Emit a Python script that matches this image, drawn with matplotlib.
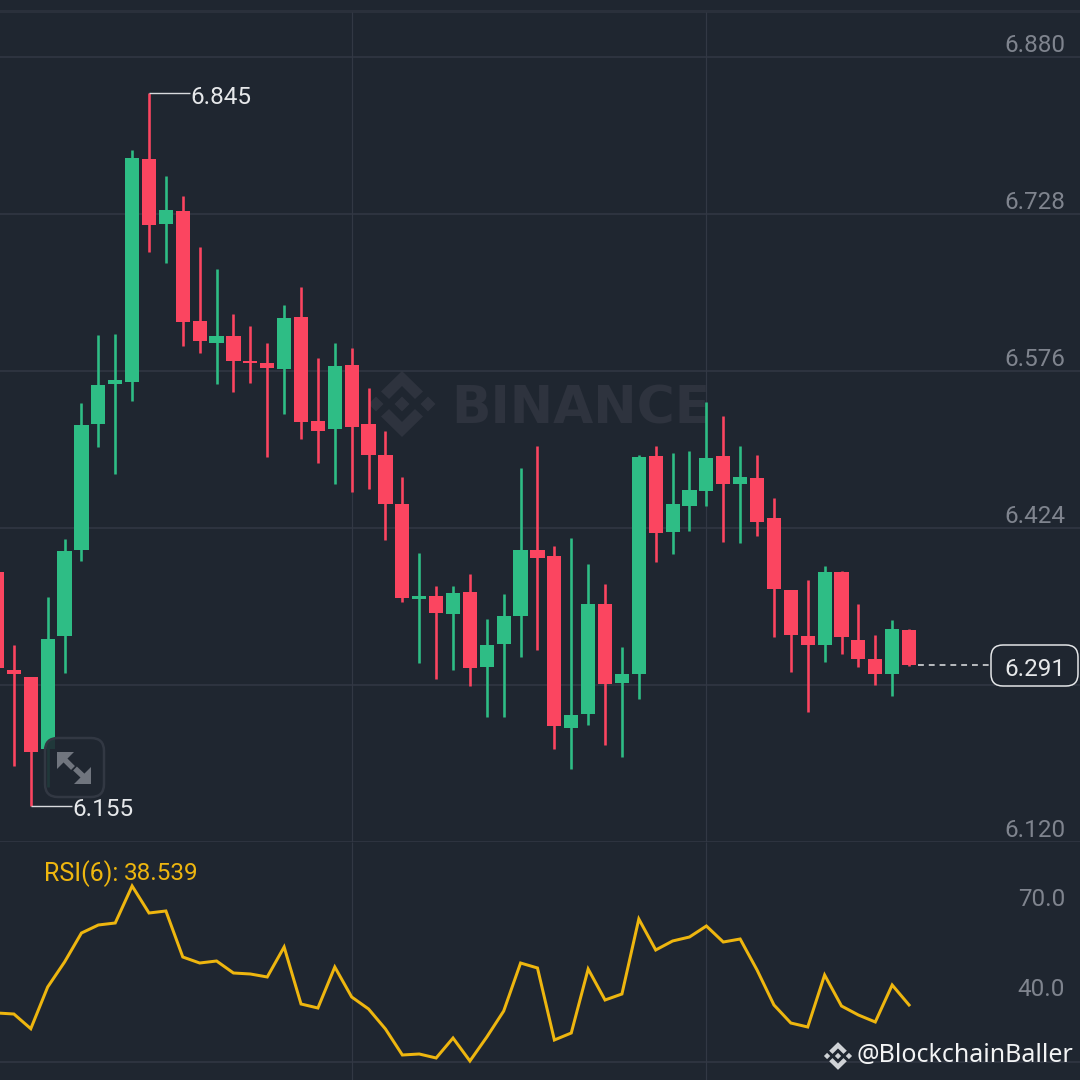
#!/usr/bin/env python
# -*- coding: utf-8 -*-

"""
Candlestick chart with RSI(6) pane, dark exchange theme.
"""

import matplotlib
matplotlib.use('Agg')
from matplotlib import pyplot as plt
from matplotlib.patches import FancyBboxPatch, Polygon

plt.rcParams['font.family'] = ['Roboto', 'DejaVu Sans']

# data
opens = [6.381, 6.287, 6.280, 6.210, 6.319, 6.403, 6.525, 6.563, 6.565, 6.781, 6.718,
         6.731, 6.624, 6.603, 6.610, 6.586, 6.584, 6.578, 6.628, 6.528, 6.520, 6.582,
         6.525, 6.495, 6.447, 6.355, 6.358, 6.341, 6.362, 6.289, 6.312, 6.339, 6.403,
         6.397, 6.230, 6.244, 6.350, 6.274, 6.283, 6.494, 6.420, 6.445, 6.460, 6.494,
         6.467, 6.472, 6.434, 6.364, 6.319, 6.311, 6.381, 6.316, 6.297, 6.283, 6.325]
closes = [6.288, 6.283, 6.207, 6.317, 6.402, 6.524, 6.562, 6.567, 6.782, 6.717, 6.732,
          6.623, 6.605, 6.610, 6.586, 6.584, 6.579, 6.627, 6.527, 6.518, 6.581, 6.522,
          6.495, 6.447, 6.356, 6.358, 6.342, 6.361, 6.288, 6.311, 6.339, 6.403, 6.395,
          6.232, 6.243, 6.350, 6.273, 6.283, 6.493, 6.419, 6.447, 6.461, 6.492, 6.467,
          6.473, 6.430, 6.365, 6.320, 6.311, 6.381, 6.318, 6.297, 6.283, 6.326, 6.291]
highs = [6.381, 6.311, 6.280, 6.357, 6.413, 6.545, 6.611, 6.612, 6.790, 6.845, 6.765,
         6.745, 6.696, 6.675, 6.631, 6.620, 6.603, 6.640, 6.657, 6.589, 6.603, 6.598,
         6.560, 6.518, 6.473, 6.400, 6.368, 6.368, 6.379, 6.336, 6.360, 6.482, 6.503,
         6.407, 6.414, 6.389, 6.370, 6.309, 6.495, 6.503, 6.497, 6.499, 6.546, 6.532,
         6.503, 6.495, 6.453, 6.364, 6.374, 6.387, 6.382, 6.350, 6.320, 6.335, 6.326]
lows = [6.288, 6.194, 6.155, 6.173, 6.284, 6.392, 6.502, 6.476, 6.547, 6.691, 6.681,
        6.600, 6.593, 6.563, 6.556, 6.564, 6.493, 6.534, 6.510, 6.487, 6.467, 6.459,
        6.462, 6.412, 6.352, 6.293, 6.278, 6.287, 6.271, 6.241, 6.241, 6.299, 6.306,
        6.210, 6.191, 6.233, 6.214, 6.202, 6.258, 6.391, 6.399, 6.421, 6.445, 6.410,
        6.409, 6.416, 6.318, 6.285, 6.246, 6.294, 6.302, 6.289, 6.272, 6.261, 6.290]
rsi = [35.87, 35.53, 30.63, 44.53, 52.87, 62.53, 65.2, 65.87, 78.2, 69.2, 69.87,
       54.53, 52.53, 53.2, 49.2, 48.87, 47.87, 57.87, 38.87, 37.53, 51.2, 41.2,
       37.2, 30.53, 21.87, 22.2, 20.87, 27.53, 19.87, 27.87, 36.53, 52.53, 50.87,
       26.87, 29.2, 50.53, 40.2, 42.2, 67.2, 56.87, 59.87, 61.2, 64.87, 59.53,
       60.53, 50.2, 38.54, 32.53, 31.2, 48.53, 38.2, 35.2, 32.87, 45.2, 38.539]
price_ticks = [6.880, 6.728, 6.576, 6.424, 6.272, 6.120]
price_labels = ['6.880', '6.728', '6.576', '6.424', '', '6.120']
rsi_ticks = [70.0, 40.0]
rsi_grid = [19.5]
vgrid_at = [21, 42]

# styles
BG = '#1f2630'
GRID = '#323844'
UP = '#2ebd85'
DOWN = '#fb4560'
YELLOW = '#eeb60f'
AXIS_TEXT = '#7f848e'
LIGHT = '#e6e8ea'
MARK = '#2e333e'
PX = 0.72  # 1 px in points at dpi 100

STEP = 16.89
X0 = -3.0


def px_to_index(x):
    return (x - X0) / STEP


def draw_logo(ax, cx, cy, scale, color, zorder=1):
    # four-part diamond mark, outline in units of the big watermark
    top = [(0, -33), (21, -12.5), (13, -5), (0, -18), (-13, -5), (-21, -12.5)]
    bottom = [(x, -y) for x, y in top]
    d = 7.5
    small = [[(ox - d, 0), (ox, -d), (ox + d, 0), (ox, d)] for ox in (-26, 0, 26)]
    for shape in [top, bottom] + small:
        pts = [(cx + x * scale, cy + y * scale) for x, y in shape]
        ax.add_patch(Polygon(pts, closed=True, fc=color, ec='none', zorder=zorder))


def pixel_axes(fig, zorder):
    ax = fig.add_axes((0, 0, 1, 1), zorder=zorder)
    ax.set_xlim(0, 1080)
    ax.set_ylim(1080, 0)
    ax.axis('off')
    return ax


def main():
    fig = plt.figure(figsize=(10.8, 10.8), dpi=100, facecolor=BG)

    # watermark and frame lines under everything
    back = pixel_axes(fig, 0)
    back.plot([0, 1080], [10.5, 10.5], color='#2a303b', lw=3 * PX)
    draw_logo(back, 402, 404, 1.0, MARK)
    back.text(451, 404, 'BINANCE', color=MARK, fontsize=37.4, fontweight='bold',
              family='DejaVu Sans', va='center_baseline', ha='left')

    xlim = (px_to_index(0), px_to_index(1080))

    # price pane
    ax = fig.add_axes((0, 238 / 1080, 1, 842 / 1080), zorder=1)
    ax.patch.set_alpha(0)
    ax.set_xlim(*xlim)
    ax.set_ylim(6.120, 6.120 + 842 * 0.152 / 157)
    ax.axis('off')
    for tick, label in zip(price_ticks, price_labels):
        ax.axhline(tick, color=GRID, lw=1.5 * PX, zorder=1)
        ax.annotate(label, xy=(1065 / 1080, tick), xycoords=('axes fraction', 'data'),
                    xytext=(0, 11.5 * PX), textcoords='offset points', ha='right', va='center',
                    color=AXIS_TEXT, fontsize=17.5)
    ax.vlines(vgrid_at, 6.120, 6.120 + 830 * 0.152 / 157, color=GRID, lw=1.2 * PX, zorder=1)

    idx = list(range(len(opens)))
    colors = [UP if c >= o else DOWN for o, c in zip(opens, closes)]
    ax.vlines(idx, lows, highs, colors=colors, lw=2.6 * PX, zorder=3)
    ax.bar(idx, [abs(c - o) for o, c in zip(opens, closes)],
           bottom=[min(o, c) for o, c in zip(opens, closes)],
           width=14.2 / STEP, color=colors, linewidth=0, zorder=4)

    # highest / lowest markers
    i_hi = highs.index(max(highs))
    i_lo = lows.index(min(lows))
    for i, p in ((i_hi, highs[i_hi]), (i_lo, lows[i_lo])):
        ax.plot([i, i + 2.42], [p, p], color='#d8dadd', lw=1.4 * PX, zorder=5, solid_capstyle='butt')
        ax.annotate('%.3f' % p, xy=(i + 2.46, p), xytext=(0, -1.5 * PX), textcoords='offset points',
                    color=LIGHT, fontsize=17.5, ha='left', va='center_baseline', zorder=5)

    # last price line
    last = closes[-1]
    ax.plot([idx[-1] + 0.5, px_to_index(990)], [last, last], color=LIGHT, lw=1.5 * PX,
            linestyle=(0, (3.9, 3.3)), zorder=5)

    # RSI pane
    rsi_ax = fig.add_axes((0, 0, 1, 238 / 1080), zorder=1)
    rsi_ax.patch.set_alpha(0)
    rsi_ax.set_xlim(*xlim)
    rsi_ax.set_ylim(40 - (1080 - 1000.6) / 3, 40 + (1000.6 - 842) / 3)
    rsi_ax.axis('off')
    for v in rsi_grid:
        rsi_ax.axhline(v, color=GRID, lw=1.5 * PX, zorder=1)
    rsi_ax.vlines(vgrid_at, *rsi_ax.get_ylim(), color=GRID, lw=1.2 * PX, zorder=1)
    for v in rsi_ticks:
        rsi_ax.annotate('%.1f' % v, xy=(1065 / 1080, v), xycoords=('axes fraction', 'data'),
                        xytext=(0, 11.5 * PX), textcoords='offset points', ha='right', va='center',
                        color=AXIS_TEXT, fontsize=17.5)
    rsi_ax.plot(idx, rsi, color=YELLOW, lw=3 * PX, zorder=3, solid_joinstyle='miter')

    # overlays in pixel coordinates
    top = pixel_axes(fig, 2)
    top.patch.set_alpha(0)
    top.text(44, 874, 'RSI(6):', color=YELLOW, fontsize=18, ha='left', va='center')
    top.text(124, 874, '%.3f' % rsi[-1], color=YELLOW, fontsize=17.5, ha='left', va='center')

    # price tag
    top.add_patch(FancyBboxPatch((999, 653), 71, 25, boxstyle='round,pad=0,rounding_size=1',
                                 fc=BG, ec='none', zorder=5))
    top.add_patch(FancyBboxPatch((991, 645), 87, 41, boxstyle='round,pad=0,rounding_size=12',
                                 fc=BG, ec=LIGHT, lw=1.5 * PX, zorder=6))
    top.text(1035, 670, '%.3f' % last, color=LIGHT, fontsize=17.5, ha='center', va='center', zorder=7)

    # expand button
    top.add_patch(FancyBboxPatch((45, 738), 59, 59, boxstyle='round,pad=0,rounding_size=13',
                                 fc=(0.122, 0.149, 0.188, 0.88), ec='#323843', lw=2.5 * PX, zorder=5))
    arrow_color = '#70757e'
    top.add_patch(Polygon([(57, 752), (74, 752), (57, 769)], fc=arrow_color, ec='none', zorder=6))
    top.add_patch(Polygon([(91, 784), (74, 784), (91, 767)], fc=arrow_color, ec='none', zorder=6))
    top.plot([63, 73], [758, 768], color=arrow_color, lw=5.5 * PX, solid_capstyle='butt', zorder=6)
    top.plot([85, 75], [778, 768.5], color=arrow_color, lw=5.5 * PX, solid_capstyle='butt', zorder=6)

    # author credit
    draw_logo(top, 838, 1056, 0.42, '#cfd2d6', zorder=6)
    top.text(1073, 1056, '@BlockchainBaller', color='#f2f3f4', fontsize=18, family='Noto Sans',
             ha='right', va='center', zorder=6)

    fig.savefig('out.png', dpi=100, facecolor=BG)


if __name__ == '__main__':
    main()
